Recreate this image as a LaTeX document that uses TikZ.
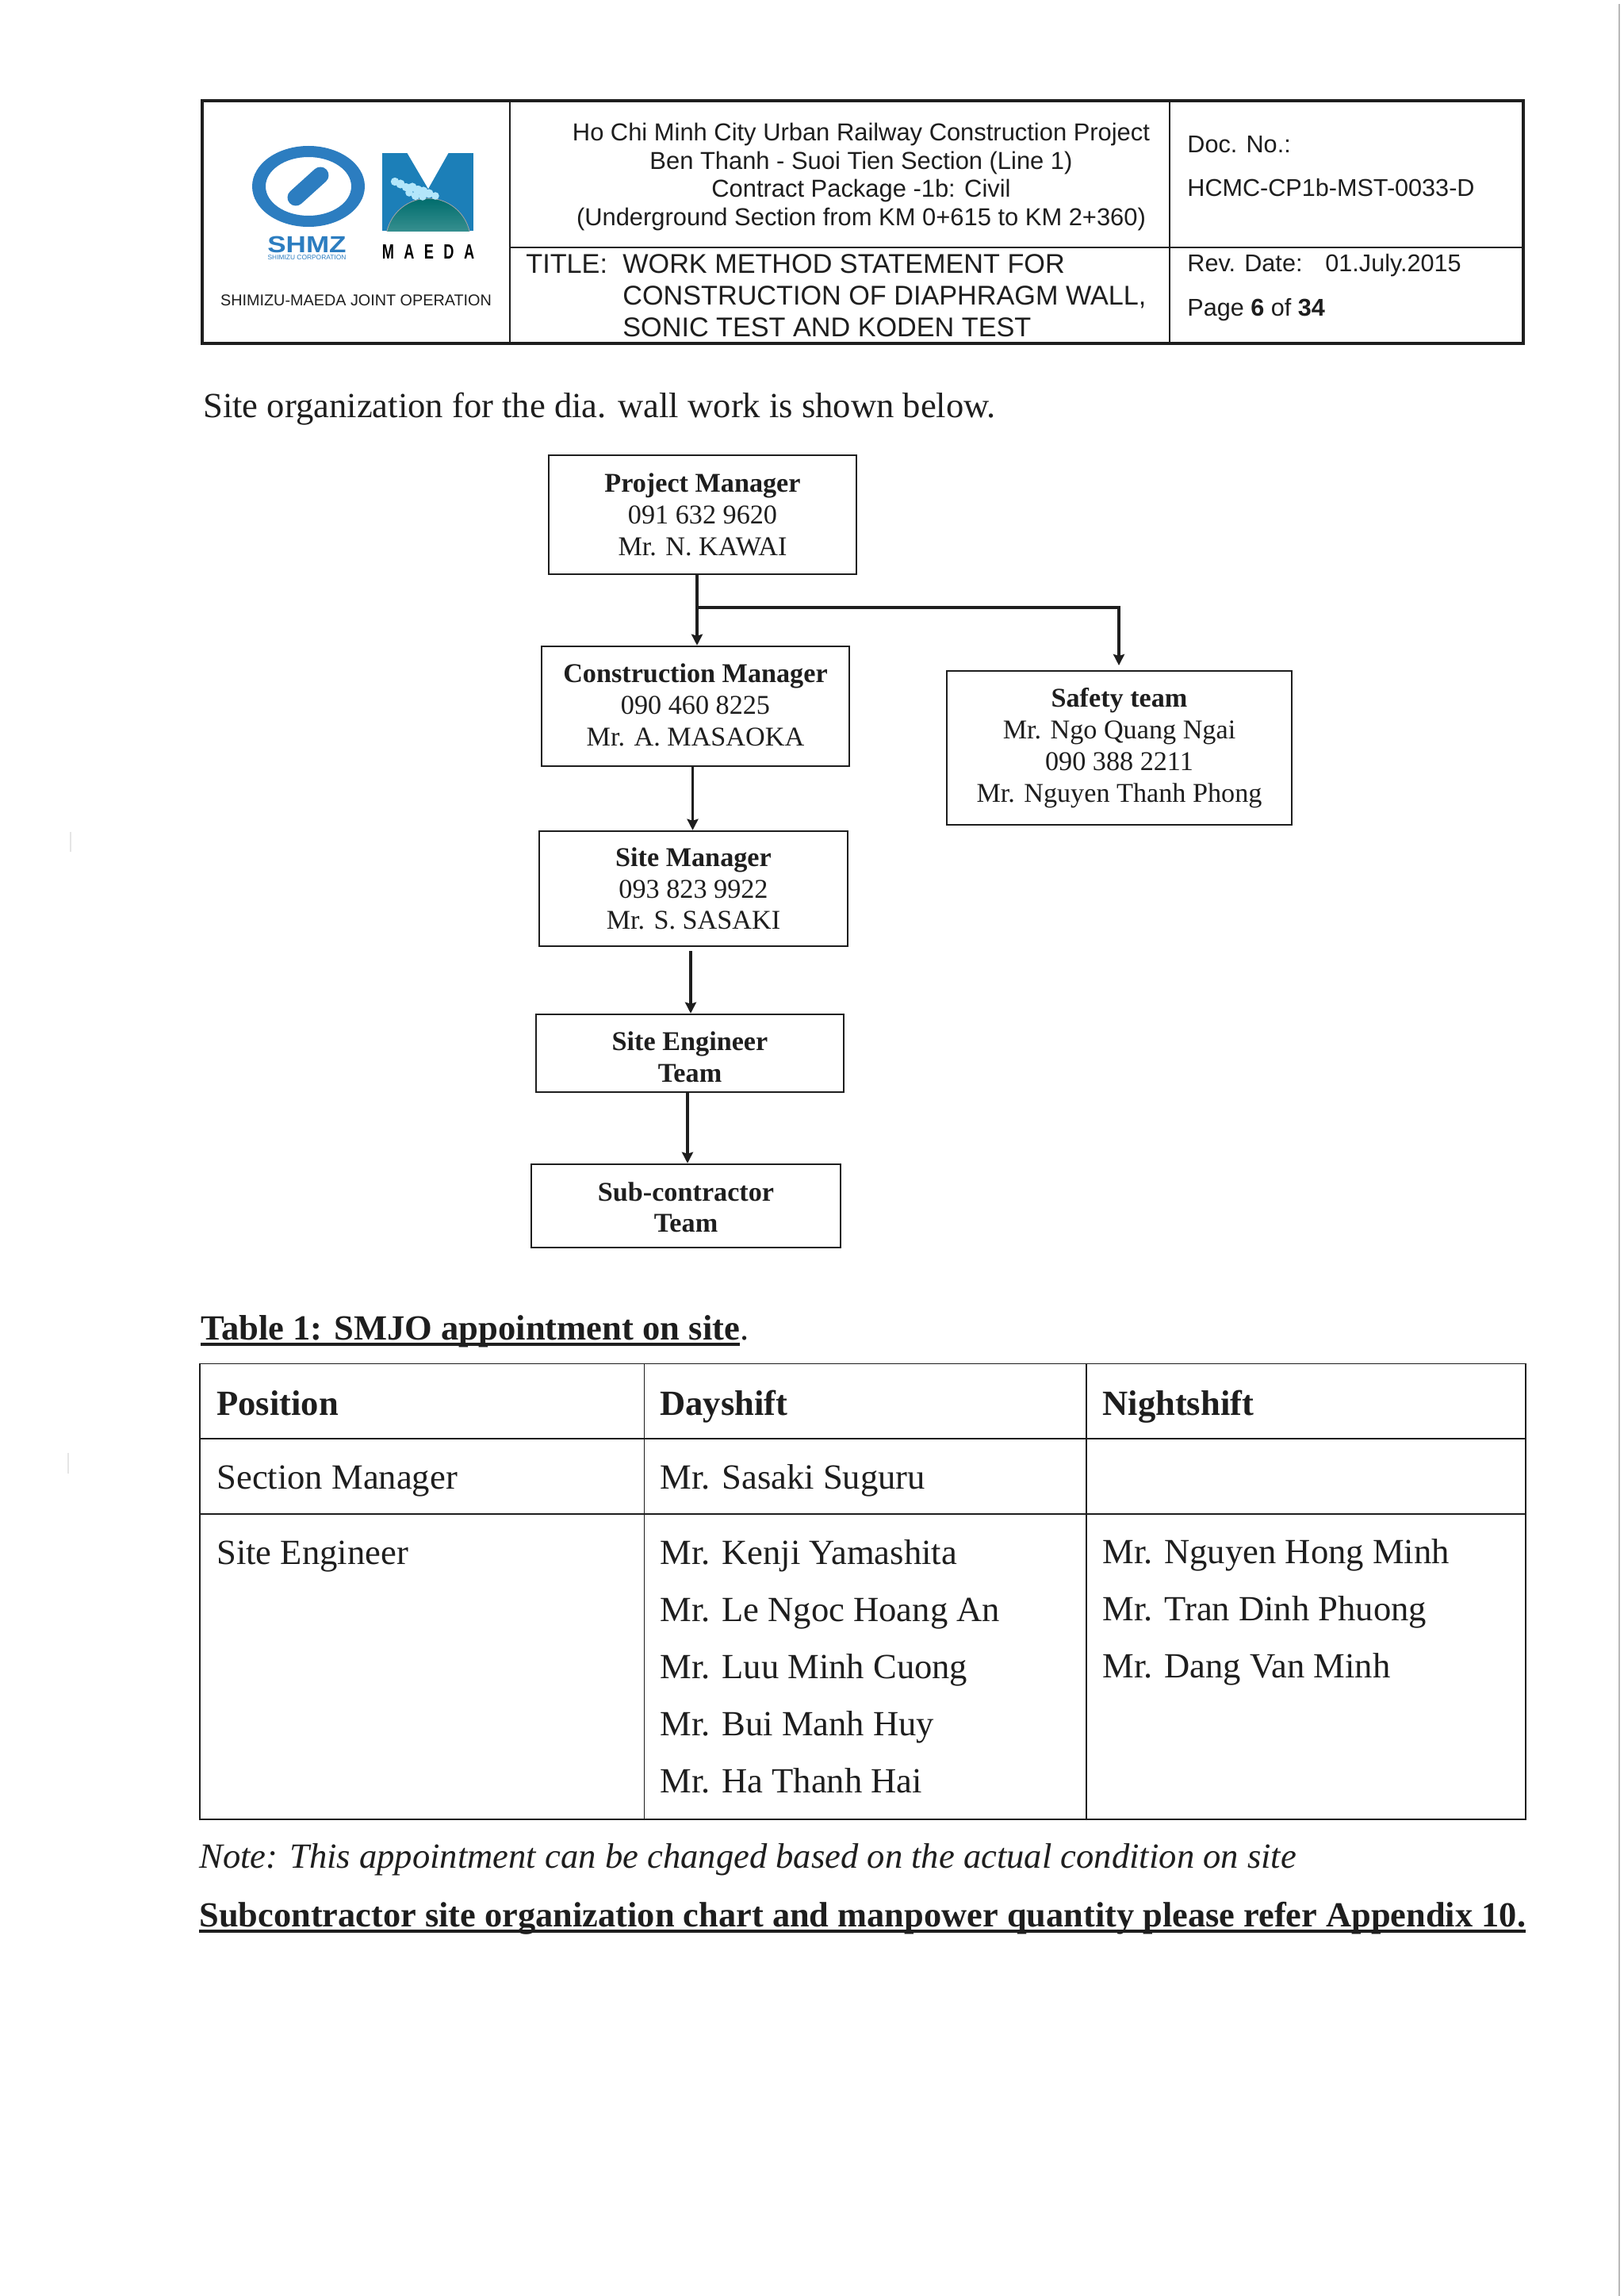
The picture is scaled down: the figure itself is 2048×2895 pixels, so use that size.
\documentclass[tikz,border=0pt]{standalone}
\usepackage{fontspec}
\setmainfont{Liberation Serif}
\newfontfamily\hdrfont{Liberation Sans}
\usetikzlibrary{arrows.meta}
\definecolor{logoblue}{HTML}{2C7DC0}
\definecolor{mblue}{HTML}{1C7FB8}
\definecolor{inkc}{HTML}{1E1E1E}
\newcommand\thickul[1]{\setbox0=\hbox{#1}\rlap{\rule[-4pt]{\wd0}{2pt}}\box0}
\newcommand\nl[1]{\scalebox{.7}[1]{#1}}
\tikzset{
  orgbox/.style={draw=inkc,line width=1.25pt,fill=white,align=center,inner sep=0pt,text=inkc,font=\fontsize{17.1}{19.9}\selectfont},
  conn/.style={draw=inkc,line width=1.6pt},
  connarrow/.style={conn,-{Stealth[length=7pt,width=7pt,inset=1pt]}},
  hdr/.style={anchor=base,inner sep=0pt,text=inkc,font=\hdrfont\fontsize{15.45}{19}\selectfont},
  hdrl/.style={anchor=base west,inner sep=0pt,text=inkc,font=\hdrfont\fontsize{17.1}{19}\selectfont},
  hdrs/.style={anchor=base west,inner sep=0pt,text=inkc,font=\hdrfont\fontsize{15.3}{19}\selectfont},
  body/.style={anchor=base west,inner sep=0pt,text=inkc,font=\fontsize{22.3}{24}\selectfont},
  subline/.style={anchor=base west,inner sep=0pt,text=inkc,font=\fontsize{22.2}{24}\selectfont},
  cell/.style={anchor=base west,inner sep=0pt,text=inkc,font=\fontsize{22.3}{24}\selectfont},
  grid/.style={draw=inkc,line width=0.7pt},
  frame/.style={draw=inkc,line width=1.9pt},
  thin/.style={draw=inkc,line width=0.8pt},
  speck/.style={draw=black!10,line width=1pt},
}
\begin{document}
\begin{tikzpicture}[x=0.5pt,y=-0.5pt]
\useasboundingbox (0,0) rectangle (2048,2895);
\fill[white] (0,0) rectangle (2048,2895);
\draw[black!28,line width=1.2pt] (2042,5) -- (2042,2895);
\draw[speck] (89,1049) -- (89,1074);
\draw[speck] (86,1832) -- (86,1858);
% header
\draw[frame] (255,127) rectangle (1921,433);
\draw[thin] (643,127) -- (643,433);
\draw[thin] (1475,127) -- (1475,433);
\draw[thin] (643,312) -- (1921,312);
% Shimizu logo
\fill[logoblue,even odd rule] (389,235) ellipse [x radius=71,y radius=51] (389,235) ellipse [x radius=54,y radius=37];
\draw[logoblue,line width=10.5pt,line cap=round] (373,249) -- (404,221);
\node[inner sep=0pt,text=logoblue] (shmz) at (387,308) {\hdrfont\bfseries\fontsize{14.6}{15}\selectfont\scalebox{1.2}[1]{SHMZ}};
\node[inner sep=0pt,text=logoblue] (shmzsub) at (387,325) {\hdrfont\fontsize{4.2}{5}\selectfont SHIMIZU CORPORATION};
% Maeda logo
\begin{scope}
\clip (482,193) rectangle (597,291);
\fill[mblue] (482,193) rectangle (597,291);
\fill[white] (513,192) -- (540,238) -- (566,192) -- cycle;
\shade[top color=teal!85!black,bottom color=teal!45!white,draw=black!35] (540,303.5) circle (26.7pt);
\foreach \cx/\cy/\cr in {498/229/2.6,505/232/2.8,512/236/2.6,520/236/2.8,527/240/3,534/241/2.8,541/244/2.8,549/247/2.4,516/243/2.4,524/247/2.6,533/248/2.4}
  \fill[white!70!cyan] (\cx,\cy) circle (\cr pt);
\end{scope}
\node[inner sep=0pt,text=black] (maeda) at (540,318) {\hdrfont\bfseries\fontsize{13}{14}\selectfont\nl{M}\hspace{6.2pt}\nl{A}\hspace{6.2pt}\nl{E}\hspace{6.2pt}\nl{D}\hspace{6.2pt}\nl{A}};
\node[inner sep=0pt,text=inkc] (joint) at (449,379) {\hdrfont\fontsize{9.9}{12}\selectfont SHIMIZU-MAEDA JOINT OPERATION};
% header text
\node[hdr] (h1) at (1086,178) {Ho Chi Minh City Urban Railway Construction Project};
\node[hdr] (h2) at (1086,214) {Ben Thanh - Suoi Tien Section (Line 1)};
\node[hdr] (h3) at (1086,249) {Contract Package -1b: Civil};
\node[hdr] (h4) at (1086,285) {(Underground Section from KM 0+615 to KM 2+360)};
\node[hdrl] (t0) at (663,344) {TITLE:};
\node[hdrl] (t1) at (785,344) {WORK METHOD STATEMENT FOR};
\node[hdrl] (t2) at (785,384) {CONSTRUCTION OF DIAPHRAGM WALL,};
\node[hdrl] (t3) at (785,424) {SONIC TEST AND KODEN TEST};
\node[hdrs] (d1) at (1497,193) {Doc. No.:};
\node[hdrs] (d2) at (1497,248) {HCMC-CP1b-MST-0033-D};
\node[hdrs] (d3) at (1497,342) {Rev. Date:};
\node[hdrs] (d4) at (1671,342) {01.July.2015};
\node[hdrs] (d5) at (1497,398) {Page \textbf{6} of \textbf{34}};
% body
\node[body] (intro) at (256,526) {Site organization for the dia. wall work is shown below.};
% chart
\node[orgbox,minimum width=194pt,minimum height=75pt] (pm) at (886,649) {\textbf{Project Manager}\\091 632 9620\\Mr. N. KAWAI};
\node[orgbox,minimum width=194pt,minimum height=75.5pt] (cm) at (877,890.5) {\textbf{Construction Manager}\\090 460 8225\\Mr. A. MASAOKA\rule[-2pt]{0pt}{0pt}};
\node[orgbox,minimum width=217.5pt,minimum height=97pt] (st) at (1411.5,943) {\textbf{Safety team}\\Mr. Ngo Quang Ngai\\090 388 2211\\Mr. Nguyen Thanh Phong};
\node[orgbox,minimum width=194.5pt,minimum height=72.5pt] (sm) at (874.5,1120.5) {\textbf{Site Manager}\\093 823 9922\\Mr. S. SASAKI};
\node[orgbox,minimum width=194pt,minimum height=49pt] (se) at (870,1328) {\rule{0pt}{17pt}\textbf{Site Engineer}\\\textbf{Team}};
\node[orgbox,minimum width=195pt,minimum height=52.5pt] (sc) at (865,1520.5) {\rule{0pt}{13.6pt}\textbf{Sub-contractor}\\\textbf{Team}};
\coordinate (branch) at (879,766);
\coordinate (cmx) at (873.5,1000);
\coordinate (smx) at (871,1199);
\coordinate (sex) at (867,1400);
\draw[conn] (pm.south -| branch) -- (branch);
\draw[connarrow] (branch) -- (branch |- cm.north);
\draw[connarrow] (branch) -| (1411,839) coordinate (stop);
\draw[connarrow] (cm.south -| cmx) -- (cmx |- sm.north);
\draw[connarrow] (smx) -- (smx |- se.north);
\draw[connarrow] (se.south -| sex) -- (sex |- sc.north);
% table
\node[body] (tcap) at (253,1689) {\thickul{\textbf{Table 1: SMJO appointment on site}}.};
\draw[grid] (252,1719.5) rectangle (1924,2294);
\draw[grid] (252,1814) -- (1924,1814);
\draw[grid] (252,1909) -- (1924,1909);
\draw[grid] (812.5,1719.5) -- (812.5,2294);
\draw[grid] (1370,1719.5) -- (1370,2294);
\node[cell] (c11) at (273,1784) {\textbf{Position}};
\node[cell] (c12) at (832,1784) {\textbf{Dayshift}};
\node[cell] (c13) at (1390,1784) {\textbf{Nightshift}};
\node[cell] (c21) at (273,1877) {Section Manager};
\node[cell] (c22) at (832,1877) {Mr. Sasaki Suguru};
\node[cell] (c31) at (273,1972) {Site Engineer};
\node[cell] (n1) at (832,1972) {Mr. Kenji Yamashita};
\node[cell] (n2) at (832,2044) {Mr. Le Ngoc Hoang An};
\node[cell] (n3) at (832,2116) {Mr. Luu Minh Cuong};
\node[cell] (n4) at (832,2188) {Mr. Bui Manh Huy};
\node[cell] (n5) at (832,2260) {Mr. Ha Thanh Hai};
\node[cell] (m1) at (1390,1971) {Mr. Nguyen Hong Minh};
\node[cell] (m2) at (1390,2043) {Mr. Tran Dinh Phuong};
\node[cell] (m3) at (1390,2115) {Mr. Dang Van Minh};
\node[body] (note) at (251,2355) {\textit{Note: This appointment can be changed based on the actual condition on site}};
\node[subline] (sub) at (251,2429) {\thickul{\textbf{Subcontractor site organization chart and manpower quantity please refer Appendix 10.}}};
\end{tikzpicture}
\end{document}
